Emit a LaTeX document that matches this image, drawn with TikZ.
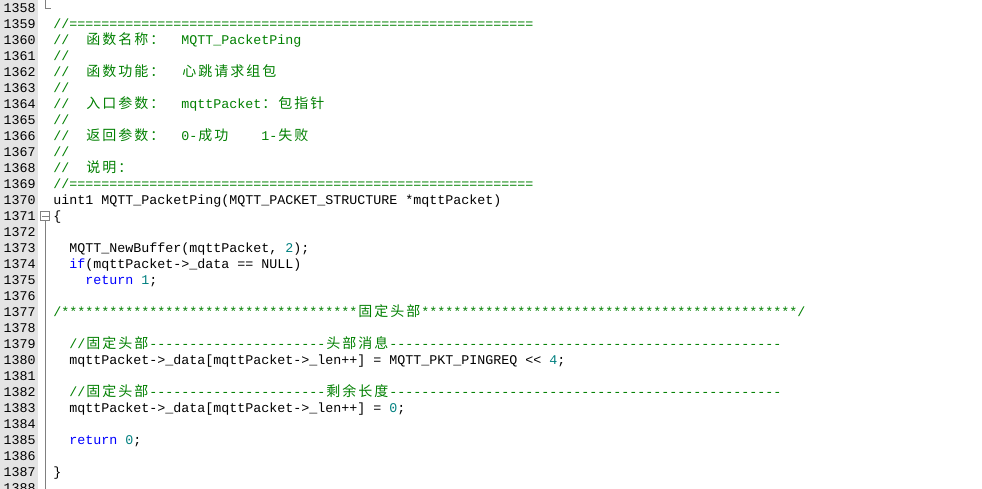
\documentclass[tikz,border=0pt]{standalone}
\usepackage{fontspec}
\setmonofont{Liberation Mono}
\newfontfamily\cjk{Noto Sans CJK SC}
\definecolor{cmt}{RGB}{0,128,0}
\definecolor{kw}{RGB}{0,0,255}
\definecolor{num}{RGB}{0,128,128}
\definecolor{gutter}{RGB}{228,228,228}
\definecolor{foldc}{RGB}{128,128,128}
\def\cjkloop#1{\ifx#1\relax\else\makebox[12pt]{\cjk\fontsize{10.5pt}{12pt}\selectfont #1}\expandafter\cjkloop\fi}
\def\C#1{\cjkloop#1\relax}
\def\rep#1#2{\ifnum#1>0 #2\expandafter\rep\expandafter{\number\numexpr#1-1\relax}{#2}\fi}
\tikzset{
  code/.style={anchor=west,inner sep=0pt,font=\ttfamily\fontsize{10pt}{12pt}\selectfont,text height=8pt,text depth=2pt},
  lnum/.style={anchor=east,inner sep=0pt,font=\ttfamily\fontsize{10pt}{12pt}\selectfont},
  cmline/.style={code,text=cmt}
}
\begin{document}
\begin{tikzpicture}[x=0.75pt,y=-0.75pt]
\useasboundingbox (0,0) rectangle (982,489);
\fill[white] (0,0) rectangle (982,489);
\fill[gutter] (0,0) rectangle (38,489);
% line numbers
\foreach \k in {0,...,30}{
  \pgfmathtruncatemacro\n{1358+\k}
  \node[lnum] (n\k) at (36,{8+16*\k}) {\n};
}
% fold markers
\draw[foldc] (45,0) -- (45,8) -- (51,8);
\node[draw=foldc,fill=white,minimum size=6.5pt,inner sep=0pt] (fb) at (45,216) {};
\draw[foldc] (41.5,216) -- (48.5,216);
\draw[foldc] (fb.south) -- (45,489);
% code lines
\def\yy#1{{8+16*(#1-1358)}}
\node[cmline] (l1359) at (53,\yy{1359}) {//\rep{58}{=}};
\node[cmline] (l1360) at (53,\yy{1360}) {//\ \ \C{函数名称：}\ \ MQTT\_PacketPing};
\node[cmline] (l1361) at (53,\yy{1361}) {//};
\node[cmline] (l1362) at (53,\yy{1362}) {//\ \ \C{函数功能：}\ \ \C{心跳请求组包}};
\node[cmline] (l1363) at (53,\yy{1363}) {//};
\node[cmline] (l1364) at (53,\yy{1364}) {//\ \ \C{入口参数：}\ \ mqttPacket\C{：包指针}};
\node[cmline] (l1365) at (53,\yy{1365}) {//};
\node[cmline] (l1366) at (53,\yy{1366}) {//\ \ \C{返回参数：}\ \ 0-\C{成功}\ \ \ \ 1-\C{失败}};
\node[cmline] (l1367) at (53,\yy{1367}) {//};
\node[cmline] (l1368) at (53,\yy{1368}) {//\ \ \C{说明：}};
\node[cmline] (l1369) at (53,\yy{1369}) {//\rep{58}{=}};
\node[code] (l1370) at (53,\yy{1370}) {uint1 MQTT\_PacketPing(MQTT\_PACKET\_STRUCTURE *mqttPacket)};
\node[code] (l1371) at (53,\yy{1371}) {\{};
\node[code] (l1373) at (69,\yy{1373}) {MQTT\_NewBuffer(mqttPacket, \textcolor{num}{2});};
\node[code] (l1374) at (69,\yy{1374}) {\textcolor{kw}{if}(mqttPacket->\_data == NULL)};
\node[code] (l1375) at (85,\yy{1375}) {\textcolor{kw}{return} \textcolor{num}{1};};
\node[cmline] (l1377) at (53,\yy{1377}) {/\rep{37}{*}\C{固定头部}\rep{47}{*}/};
\node[cmline] (l1379) at (69,\yy{1379}) {//\C{固定头部}\rep{22}{-}\C{头部消息}\rep{49}{-}};
\node[code] (l1380) at (69,\yy{1380}) {mqttPacket->\_data[mqttPacket->\_len++] = MQTT\_PKT\_PINGREQ << \textcolor{num}{4};};
\node[cmline] (l1382) at (69,\yy{1382}) {//\C{固定头部}\rep{22}{-}\C{剩余长度}\rep{49}{-}};
\node[code] (l1383) at (69,\yy{1383}) {mqttPacket->\_data[mqttPacket->\_len++] = \textcolor{num}{0};};
\node[code] (l1385) at (69,\yy{1385}) {\textcolor{kw}{return} \textcolor{num}{0};};
\node[code] (l1387) at (53,\yy{1387}) {\}};
\end{tikzpicture}
\end{document}
